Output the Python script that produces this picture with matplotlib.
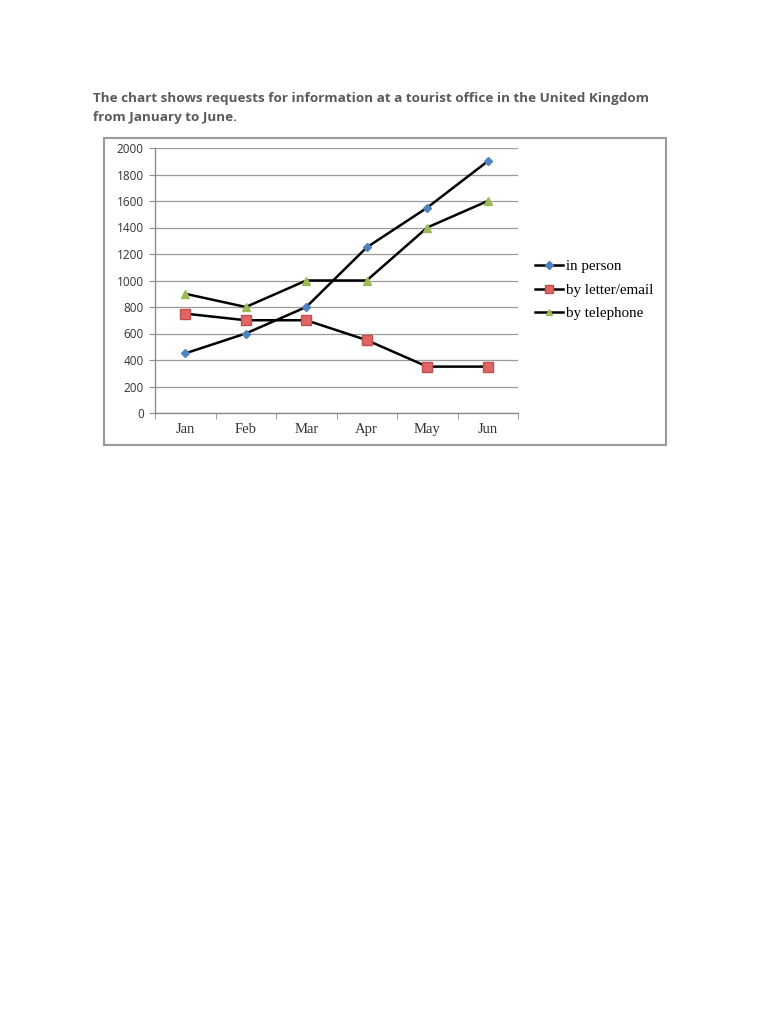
import matplotlib
matplotlib.use("Agg")
from matplotlib import pyplot as plt
from matplotlib.patches import Rectangle

months = ["Jan", "Feb", "Mar", "Apr", "May", "Jun"]
in_person = [450, 600, 800, 1250, 1550, 1900]
by_letter = [750, 700, 700, 550, 350, 350]
by_phone = [900, 800, 1000, 1000, 1400, 1600]
y_ticks = [0, 200, 400, 600, 800, 1000, 1200, 1400, 1600, 1800, 2000]

title = ("The chart shows requests for information at a tourist office in the United Kingdom\n"
         "from January to June.")


def main():
    fig = plt.figure(figsize=(7.68, 10.24), dpi=100)
    W, H = 768, 1024

    fig.text(93 / W, 1 - 108 / H, title, ha="left", va="center",
             fontsize=9.7, fontweight="bold", color="#5a5a5a",
             family="Open Sans", linespacing=1.55)

    # grey frame round the chart
    fig.patches.append(Rectangle((104 / W, 1 - 445 / H), 562 / W, 307 / H,
                                 transform=fig.transFigure, fill=False,
                                 edgecolor="#9a9a9a", lw=1.5))

    ax = fig.add_axes([155 / W, 1 - 413 / H, 363 / W, 265 / H])
    x = list(range(len(months)))

    ax.plot(x, in_person, color="black", lw=1.8, marker="D", markersize=4.5,
            markerfacecolor="#4f81bd", markeredgecolor="#4f81bd", label="in person", zorder=3)
    ax.plot(x, by_letter, color="black", lw=1.8, marker="s", markersize=6.5,
            markerfacecolor="#e06666", markeredgecolor="#c0504d", label="by letter/email", zorder=3)
    ax.plot(x, by_phone, color="black", lw=1.8, marker="^", markersize=6,
            markerfacecolor="#9bbb59", markeredgecolor="#9bbb59", label="by telephone", zorder=3)

    ax.set_xlim(-0.5, 5.5)
    ax.set_ylim(0, 2000)
    ax.set_yticks(y_ticks)
    ax.set_yticklabels([str(v) for v in y_ticks], family="Open Sans", fontsize=8.5, color="#333333")
    ax.set_xticks(x)
    ax.set_xticklabels(months, family="Liberation Serif", fontsize=10.5, color="#333333")
    ax.set_xticks([i - 0.5 for i in range(len(months) + 1)], minor=True)
    ax.tick_params(axis="x", which="major", length=0, pad=7)
    ax.tick_params(axis="x", which="minor", length=4, color="#8c8c8c")
    ax.tick_params(axis="y", length=4, color="#8c8c8c", pad=4)

    ax.grid(axis="y", color="#9a9a9a", lw=0.9)
    ax.set_axisbelow(True)
    for side in ["top", "right"]:
        ax.spines[side].set_visible(False)
    for side in ["left", "bottom"]:
        ax.spines[side].set_color("#8c8c8c")
        ax.spines[side].set_linewidth(1.0)

    fig.legend(loc="center left", bbox_to_anchor=(535 / W, 1 - 290 / H),
               frameon=False, prop={"family": "Liberation Serif", "size": 10.8},
               handlelength=1.85, handletextpad=0.2, labelspacing=0.68,
               markerscale=0.8, borderpad=0, borderaxespad=0)

    fig.savefig("out.png", dpi=100)


if __name__ == "__main__":
    main()
